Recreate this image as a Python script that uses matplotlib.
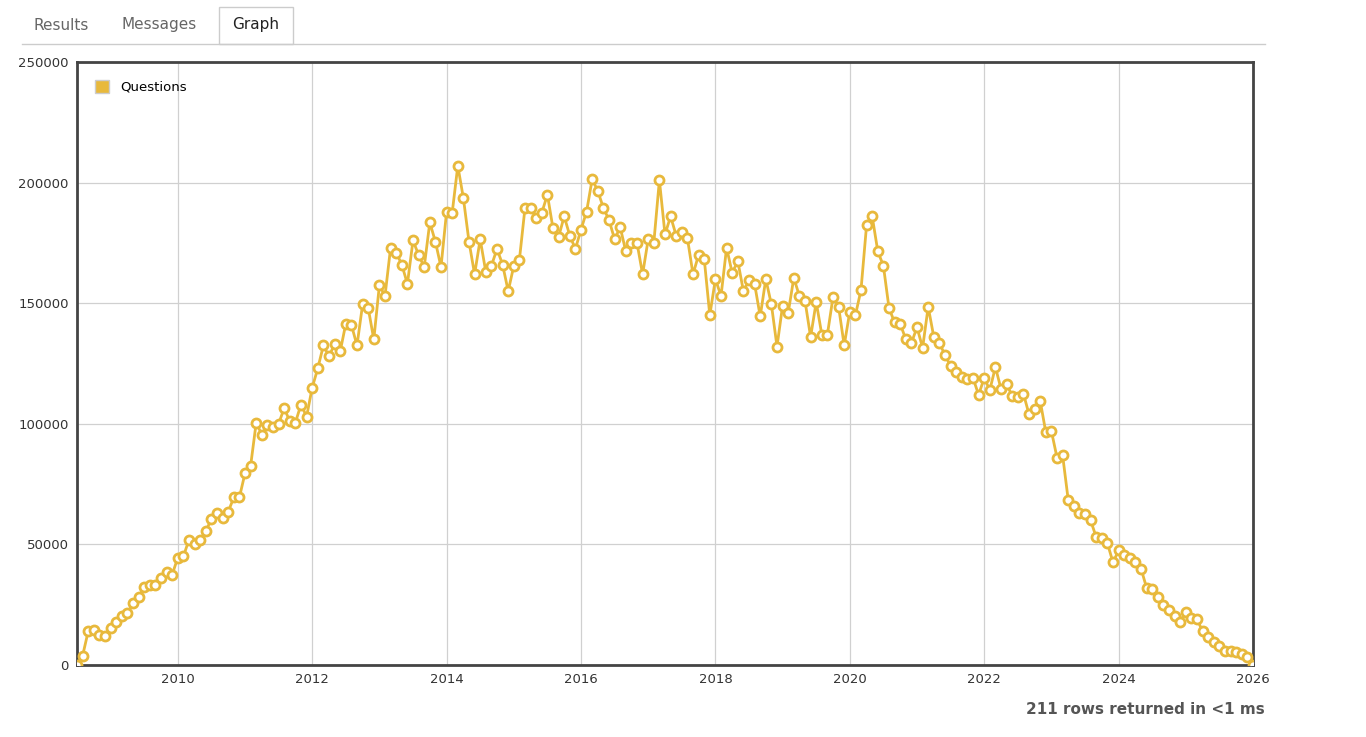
import matplotlib
matplotlib.use("Agg")
import matplotlib.pyplot as plt
import matplotlib.patches as mpatches
import numpy as np

start_year = 2008.5  # July 2008
questions = [
 0, 3800, 14000, 14500, 12500, 12000,
 15500, 18000, 20500, 21500, 25500, 28000, 32500, 33000, 33000, 36000, 38500, 37500,
 44500, 45000, 52000, 50000, 52000, 55500, 60500, 63000, 61000, 63500, 69500, 69500,
 79500, 82500, 100500, 95500, 99500, 98500, 100000, 106500, 101000, 100500, 108000, 103000,
 115000, 123000, 132500, 128000, 133000, 130000, 141500, 141000, 132500, 149500, 148000, 135000,
 157500, 153000, 173000, 171000, 166000, 158000, 176000, 170000, 165000, 183500, 175500, 165000,
 188000, 187500, 207000, 193500, 175500, 162000, 176500, 163000, 165500, 172500, 166000, 155000,
 165500, 168000, 189500, 189500, 185500, 187500, 195000, 181000, 177500, 186000, 178000, 172500,
 180500, 188000, 201500, 196500, 189500, 184500, 176500, 181500, 171500, 175000, 175000, 162000,
 176500, 175000, 201000, 178500, 186000, 178000, 179500, 177000, 162000, 170000, 168500, 145000,
 160000, 153000, 173000, 162500, 167500, 155000, 159500, 158000, 144500, 160000, 149500, 132000,
 149000, 146000, 160500, 153000, 151000, 136000, 150500, 137000, 137000, 152500, 148500, 132500,
 146500, 145000, 155500, 182500, 186000, 171500, 165500, 148000, 142000, 141500, 135000, 133500,
 140000, 131500, 148500, 136000, 133500, 128500, 124000, 121500, 119500, 118500, 119000, 112000,
 119000, 114000, 123500, 114500, 116500, 111500, 111000, 112500, 104000, 106000, 109500, 96500,
 97000, 86000, 87000, 68500, 66000, 63000, 62500, 60000, 53000, 52500, 50500, 42500,
 47500, 45500, 44500, 42500, 40000, 32000, 31500, 28000, 25000, 23000, 20500, 18000,
 22000, 19500, 19000, 14000, 11500, 9500, 8000, 6000, 6000, 5500, 4500, 3500,
 0]
x_ticks = [2010, 2012, 2014, 2016, 2018, 2020, 2022, 2024, 2026]
y_ticks = [0, 50000, 100000, 150000, 200000, 250000]
tabs = ["Results", "Messages", "Graph"]

W, H = 1366, 737
fig = plt.figure(figsize=(W/100, H/100), dpi=100)
ax = fig.add_axes([77/W, 1-665/H, (1253-77)/W, (665-62)/H])
x = start_year + np.arange(len(questions))/12
col = "#e8b93c"
ax.plot(x, questions, color=col, lw=2, marker="o", ms=6.5, mfc="white", mec=col, mew=2, zorder=3)
ax.set_xlim(start_year, 2026)
ax.set_ylim(0, 250000)
ax.set_xticks(x_ticks)
ax.set_yticks(y_ticks)
ax.grid(color="#d0d0d0", lw=0.9)
ax.tick_params(length=0, labelsize=9.5, colors="#333333", pad=6)
for s in ax.spines.values():
    s.set_color("#444444"); s.set_linewidth(2)
leg = ax.legend(handles=[mpatches.Patch(facecolor=col, edgecolor="#cccccc", label="Questions")],
                loc="upper left", frameon=False, fontsize=9.5, handlelength=1.1, handleheight=1.1,
                bbox_to_anchor=(0.005, 0.99))

# tabs
fig.add_artist(plt.Line2D([22/W, 1265/W], [1-44/H]*2, color="#cccccc", lw=1))
tab_x = [61, 159, 256]
for t, tx in zip(tabs, tab_x):
    fig.text(tx/W, 1-25/H, t, ha="center", va="center", fontsize=11,
             color="#222222" if t == "Graph" else "#666666")
fig.add_artist(mpatches.Rectangle((219/W, 1-44/H), (293-219)/W, 37/H, facecolor="white",
               edgecolor="#cccccc", lw=1, transform=fig.transFigure))
fig.text(1265/W, 1-710/H, "211 rows returned in <1 ms", ha="right", va="center",
         fontsize=11, fontweight="bold", color="#555555")
fig.savefig("out.png", dpi=100)
